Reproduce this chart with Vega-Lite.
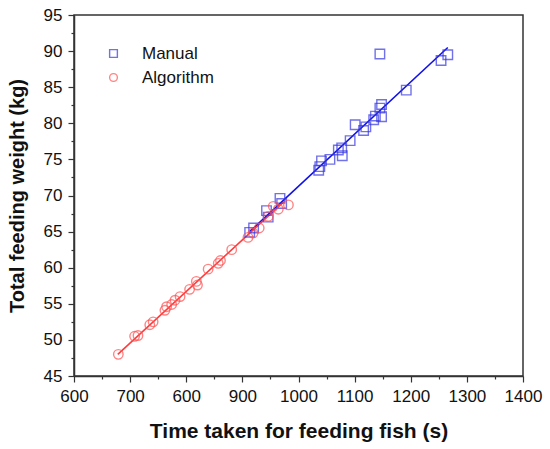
{
  "$schema": "https://vega.github.io/schema/vega-lite/v6.json",
  "autosize": "none",
  "padding": {"left": 74, "top": 15, "right": 27, "bottom": 73},
  "width": 449,
  "height": 361,
  "background": "white",
  "config": {
    "font": "Liberation Sans",
    "view": {"stroke": "#333333", "strokeWidth": 1.5},
    "axis": {
      "domainColor": "#333333",
      "domainWidth": 1.5,
      "tickColor": "#333333",
      "tickWidth": 1.2,
      "grid": false,
      "labelFont": "Liberation Sans",
      "labelFontSize": 17,
      "labelColor": "#111111",
      "titleFont": "Liberation Sans",
      "titleFontSize": 20,
      "titleFontWeight": "bold",
      "titleColor": "#111111",
      "labelOverlap": false
    }
  },
  "datasets": {
    "points": [
      {"series": "Manual", "time": 913, "weight": 64.9},
      {"series": "Manual", "time": 920, "weight": 65.5},
      {"series": "Manual", "time": 943, "weight": 67.9},
      {"series": "Manual", "time": 946, "weight": 67.0},
      {"series": "Manual", "time": 967, "weight": 69.6},
      {"series": "Manual", "time": 970, "weight": 68.9},
      {"series": "Manual", "time": 1036, "weight": 73.5},
      {"series": "Manual", "time": 1038, "weight": 74.0},
      {"series": "Manual", "time": 1041, "weight": 74.8},
      {"series": "Manual", "time": 1056, "weight": 75.0},
      {"series": "Manual", "time": 1071, "weight": 76.3},
      {"series": "Manual", "time": 1077, "weight": 76.6},
      {"series": "Manual", "time": 1078, "weight": 75.5},
      {"series": "Manual", "time": 1092, "weight": 77.6},
      {"series": "Manual", "time": 1101, "weight": 79.8},
      {"series": "Manual", "time": 1116, "weight": 79.0},
      {"series": "Manual", "time": 1120, "weight": 79.5},
      {"series": "Manual", "time": 1134, "weight": 80.5},
      {"series": "Manual", "time": 1137, "weight": 81.0},
      {"series": "Manual", "time": 1148, "weight": 80.9},
      {"series": "Manual", "time": 1145, "weight": 82.1},
      {"series": "Manual", "time": 1148, "weight": 82.6},
      {"series": "Manual", "time": 1145, "weight": 89.6},
      {"series": "Manual", "time": 1192, "weight": 84.6},
      {"series": "Manual", "time": 1254, "weight": 88.7},
      {"series": "Manual", "time": 1266, "weight": 89.5},
      {"series": "Algorithm", "time": 679, "weight": 48.0},
      {"series": "Algorithm", "time": 708, "weight": 50.5},
      {"series": "Algorithm", "time": 714, "weight": 50.6},
      {"series": "Algorithm", "time": 735, "weight": 52.1},
      {"series": "Algorithm", "time": 741, "weight": 52.5},
      {"series": "Algorithm", "time": 762, "weight": 54.1},
      {"series": "Algorithm", "time": 765, "weight": 54.6},
      {"series": "Algorithm", "time": 774, "weight": 54.9},
      {"series": "Algorithm", "time": 780, "weight": 55.5},
      {"series": "Algorithm", "time": 789, "weight": 56.0},
      {"series": "Algorithm", "time": 806, "weight": 57.0},
      {"series": "Algorithm", "time": 818, "weight": 58.1},
      {"series": "Algorithm", "time": 820, "weight": 57.6},
      {"series": "Algorithm", "time": 839, "weight": 59.8},
      {"series": "Algorithm", "time": 857, "weight": 60.6},
      {"series": "Algorithm", "time": 861, "weight": 61.0},
      {"series": "Algorithm", "time": 881, "weight": 62.5},
      {"series": "Algorithm", "time": 910, "weight": 64.2},
      {"series": "Algorithm", "time": 919, "weight": 64.8},
      {"series": "Algorithm", "time": 930, "weight": 65.5},
      {"series": "Algorithm", "time": 946, "weight": 67.1},
      {"series": "Algorithm", "time": 955, "weight": 68.5},
      {"series": "Algorithm", "time": 964, "weight": 68.1},
      {"series": "Algorithm", "time": 982, "weight": 68.7}
    ],
    "fits": [
      {"series": "Manual", "time": 913, "weight": 65.0},
      {"series": "Manual", "time": 1266, "weight": 90.5},
      {"series": "Algorithm", "time": 678, "weight": 48.0},
      {"series": "Algorithm", "time": 975, "weight": 69.2}
    ]
  },
  "encoding": {
    "x": {
      "field": "time",
      "type": "quantitative",
      "title": "Time taken for feeding fish (s)",
      "scale": {"domain": [600, 1400], "nice": false, "zero": false},
      "axis": {
        "values": [600, 650, 700, 750, 800, 850, 900, 950, 1000, 1050, 1100, 1150, 1200, 1250, 1300, 1350, 1400],
        "format": "d",
        "labelExpr": "datum.value % 100 != 0 ? '' : (datum.value == 800 ? '600' : datum.label)",
        "labelOverlap": false,
        "labelBound": false,
        "labelFlush": false,
        "tickSize": {"condition": {"test": "datum.value % 100 == 0", "value": 6}, "value": 3},
        "labelPadding": 6,
        "titleFontSize": 21,
        "titlePadding": 16
      }
    },
    "y": {
      "field": "weight",
      "type": "quantitative",
      "title": "Total feeding weight (kg)",
      "scale": {"domain": [45, 95], "nice": false, "zero": false},
      "axis": {
        "values": [45, 47.5, 50, 52.5, 55, 57.5, 60, 62.5, 65, 67.5, 70, 72.5, 75, 77.5, 80, 82.5, 85, 87.5, 90, 92.5, 95],
        "labelExpr": "datum.value % 5 != 0 ? '' : datum.label",
        "labelFlush": false,
        "tickSize": {"condition": {"test": "datum.value % 5 == 0", "value": 6}, "value": 3},
        "labelPadding": 6,
        "titlePadding": 16
      }
    }
  },
  "layer": [
    {
      "data": {"name": "fits"},
      "transform": [{"filter": "datum.series == 'Manual'"}],
      "mark": {"type": "line", "strokeWidth": 1.6, "color": "#1010e8"},
      "encoding": {}
    },
    {
      "data": {"name": "fits"},
      "transform": [{"filter": "datum.series == 'Algorithm'"}],
      "mark": {"type": "line", "strokeWidth": 1.6, "color": "#ff3b3b"},
      "encoding": {}
    },
    {
      "data": {"name": "points"},
      "mark": {"type": "point", "filled": false, "strokeWidth": 1.4, "opacity": 0.7},
      "encoding": {
        "color": {
          "field": "series",
          "type": "nominal",
          "scale": {"domain": ["Manual", "Algorithm"], "range": ["#3636e0", "#ff5050"]},
          "legend": {
            "title": null,
            "orient": "none",
            "legendX": 31,
            "legendY": 30,
            "labelFontSize": 17,
            "labelFont": "Liberation Sans",
            "labelColor": "#111111",
            "labelOffset": 20,
            "symbolSize": 60,
            "symbolStrokeWidth": 1.4,
            "symbolOpacity": 0.7,
            "rowPadding": 6
          }
        },
        "shape": {
          "field": "series",
          "type": "nominal",
          "scale": {"domain": ["Manual", "Algorithm"], "range": ["square", "circle"]},
          "legend": null
        },
        "size": {"value": 90}
      }
    }
  ]
}
